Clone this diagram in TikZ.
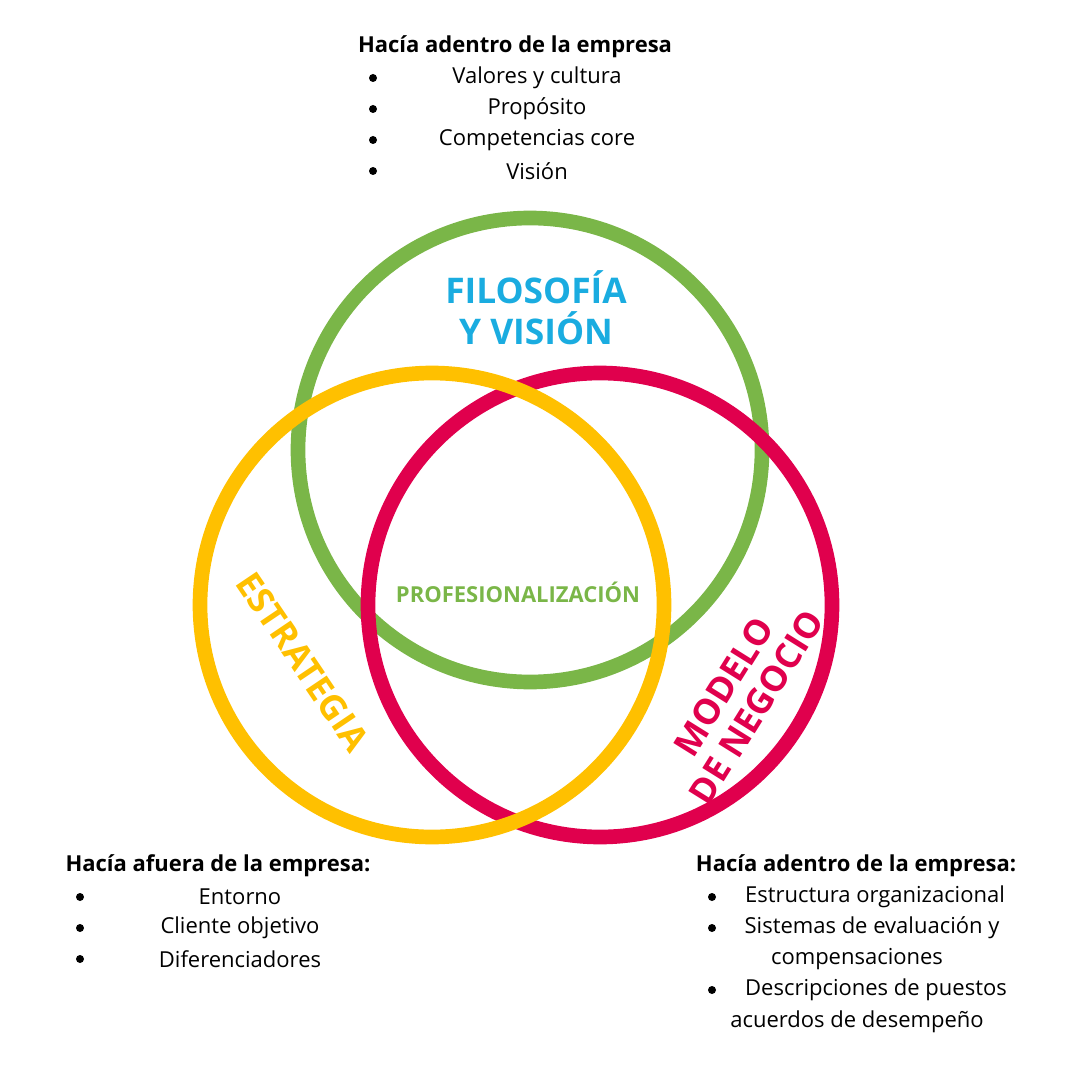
\documentclass[tikz,border=0pt]{standalone}
\usepackage{fontspec}
\setmainfont{Open Sans}
\definecolor{cg}{HTML}{7AB648}
\definecolor{cy}{HTML}{FFC000}
\definecolor{cr}{HTML}{E0004D}
\definecolor{cb}{HTML}{1AACE0}
\tikzset{ring/.style={line width=11pt},
 txt/.style={font=\fontsize{16.5}{18}\selectfont},
 hd/.style={font=\fontsize{16.5}{18}\selectfont\bfseries},
 dot/.style={circle,fill=black,inner sep=0pt,minimum size=6pt},
 big/.style={font=\fontsize{26.5}{31}\selectfont\bfseries, align=center}}
\begin{document}
\begin{tikzpicture}[x=0.75pt,y=-0.75pt]
\useasboundingbox (0,0) rectangle (1080,1080);
\draw[ring,cg] (530,450) circle (232);
\draw[ring,cr] (600,605) circle (232);
\draw[ring,cy] (432,605) circle (232);
\node[big,cb] (fv) at (536,308) {FILOSOFÍA\\Y VISIÓN};
\node[font=\fontsize{16.5}{20}\selectfont\bfseries,cg] (pr) at (518,592) {PROFESIONALIZACIÓN};
\node[big,cy,rotate=-56] (es) at (303,662) {ESTRATEGIA};
\node[big,cr,rotate=58,font=\fontsize{26.5}{29}\selectfont\bfseries] (mn) at (740,697) {MODELO\\DE NEGOCIO};
% top
\node[hd] (t0) at (515,47) {Hacía adentro de la empresa};
\foreach \y/\t [count=\i] in {78/Valores y cultura,109/Propósito,140/Competencias core,171/Visión}{
 \node[dot] (tb\i) at (373,\y) {};
 \node[txt] (ti\i) at (537,\y) {\t};}
% bottom left
\node[hd] (l0) at (218,866) {Hacía afuera de la empresa:};
\foreach \y/\t [count=\i] in {897/Entorno,928/Cliente objetivo,959/Diferenciadores}{
 \node[dot] (lb\i) at (80,\y) {};
 \node[txt] (li\i) at (240,\y) {\t};}
% bottom right
\node[hd] (r0) at (856,866) {Hacía adentro de la empresa:};
\node[dot] (rb1) at (712,897) {};
\node[txt] (ri1) at (875,897) {Estructura organizacional};
\node[dot] (rb2) at (712,928) {};
\node[txt] (ri2) at (872,928) {Sistemas de evaluación y};
\node[txt] (ri3) at (857,959) {compensaciones};
\node[dot] (rb3) at (712,990) {};
\node[txt] (ri4) at (876,990) {Descripciones de puestos};
\node[txt] (ri5) at (857,1022) {acuerdos de desempeño};
\end{tikzpicture}
\end{document}
